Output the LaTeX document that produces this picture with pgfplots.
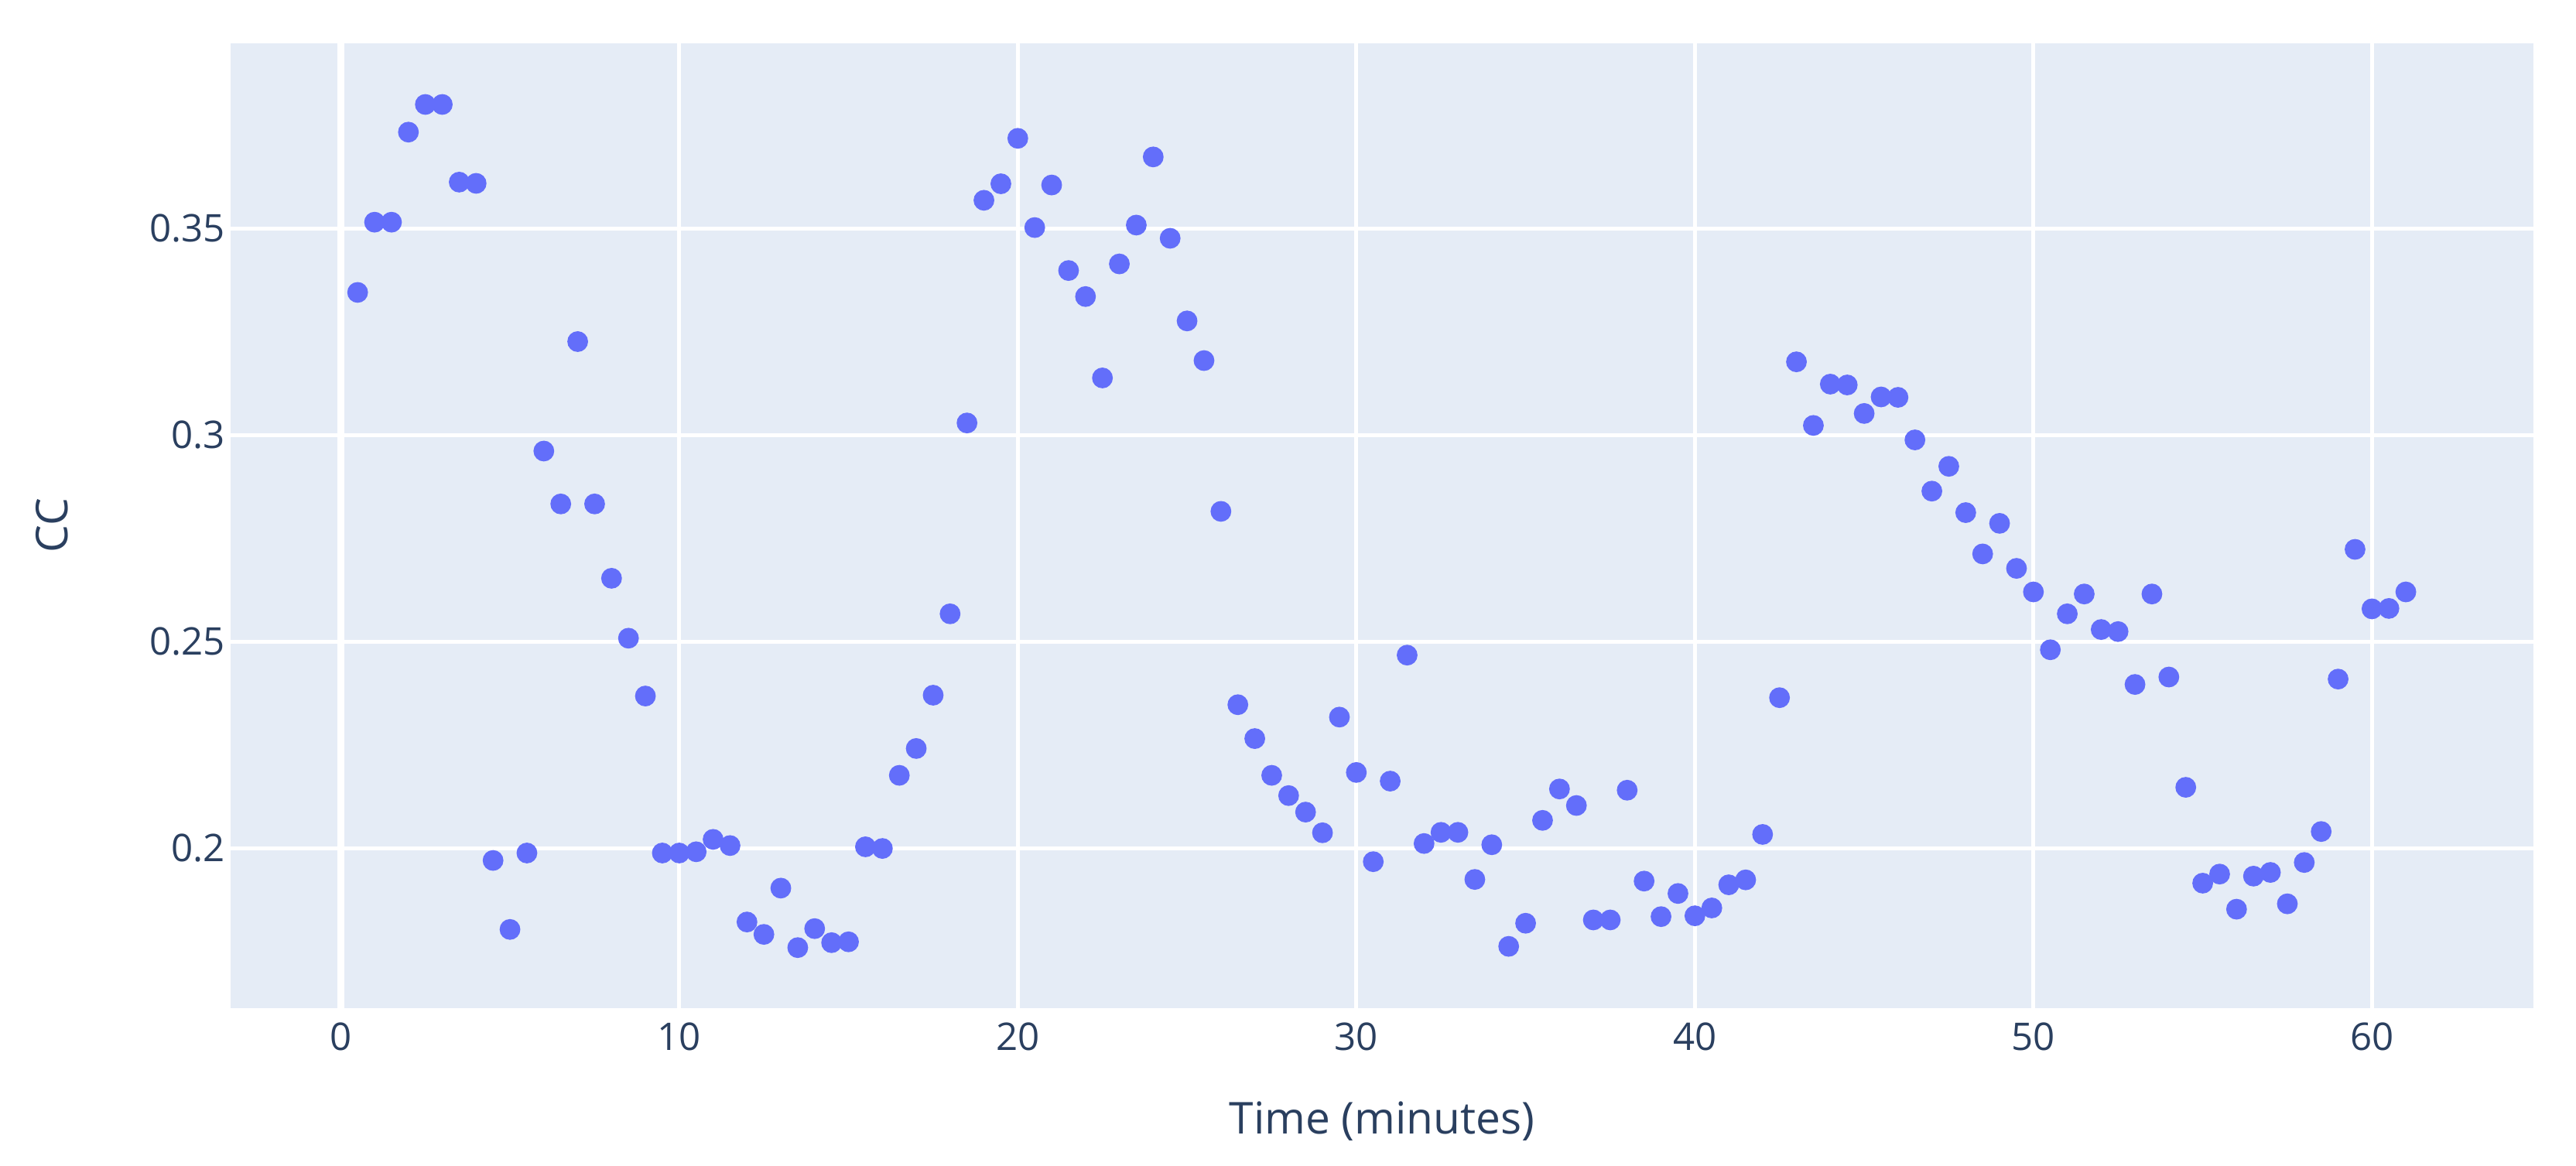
\documentclass[border=0pt]{standalone}
\usepackage{fontspec}
\setmainfont{Open Sans}
\usepackage{pgfplots}
\pgfplotsset{compat=1.18}
\usepackage{pgfplotstable}
\definecolor{bgcol}{HTML}{E5ECF6}
\definecolor{txtcol}{HTML}{2A3F5F}
\definecolor{mkcol}{HTML}{636EFA}
\pgfplotstableread{
t cc
0.5 0.3345
1.0 0.3515
1.5 0.3515
2.0 0.3733
2.5 0.3800
3.0 0.3800
3.5 0.3612
4.0 0.3609
4.5 0.1970
5.0 0.1803
5.5 0.1988
6.0 0.2961
6.5 0.2833
7.0 0.3226
7.5 0.2833
8.0 0.2653
8.5 0.2508
9.0 0.2368
9.5 0.1988
10.0 0.1988
10.5 0.1991
11.0 0.2021
11.5 0.2006
12.0 0.1821
12.5 0.1791
13.0 0.1903
13.5 0.1759
14.0 0.1805
14.5 0.1771
15.0 0.1773
15.5 0.2003
16.0 0.1999
16.5 0.2176
17.0 0.2241
17.5 0.2370
18.0 0.2567
18.5 0.3029
19.0 0.3568
19.5 0.3608
20.0 0.3718
20.5 0.3502
21.0 0.3605
21.5 0.3398
22.0 0.3335
22.5 0.3138
23.0 0.3414
23.5 0.3508
24.0 0.3673
24.5 0.3476
25.0 0.3276
25.5 0.3180
26.0 0.2815
26.5 0.2347
27.0 0.2265
27.5 0.2176
28.0 0.2127
28.5 0.2087
29.0 0.2037
29.5 0.2317
30.0 0.2183
30.5 0.1967
31.0 0.2162
31.5 0.2467
32.0 0.2011
32.5 0.2038
33.0 0.2038
33.5 0.1924
34.0 0.2008
34.5 0.1762
35.0 0.1818
35.5 0.2067
36.0 0.2143
36.5 0.2103
37.0 0.1826
37.5 0.1826
38.0 0.2140
38.5 0.1920
39.0 0.1834
39.5 0.1890
40.0 0.1836
40.5 0.1855
41.0 0.1911
41.5 0.1923
42.0 0.2033
42.5 0.2364
43.0 0.3177
43.5 0.3023
44.0 0.3123
44.5 0.3121
45.0 0.3052
45.5 0.3092
46.0 0.3091
46.5 0.2988
47.0 0.2864
47.5 0.2924
48.0 0.2812
48.5 0.2712
49.0 0.2786
49.5 0.2677
50.0 0.2620
50.5 0.2480
51.0 0.2567
51.5 0.2615
52.0 0.2529
52.5 0.2524
53.0 0.2396
53.5 0.2615
54.0 0.2414
54.5 0.2147
55.0 0.1915
55.5 0.1937
56.0 0.1852
56.5 0.1932
57.0 0.1941
57.5 0.1865
58.0 0.1965
58.5 0.2040
59.0 0.2409
59.5 0.2723
60.0 0.2579
60.5 0.2580
61.0 0.2620
}\datatable
\begin{document}
\begin{tikzpicture}
\begin{axis}[
  at={(0,0)}, anchor=south west,
  scale only axis,
  width=744pt, height=311.675pt,
  xmin=-3.253, xmax=64.77,
  ymin=0.1613, ymax=0.3948,
  axis background/.style={fill=bgcol},
  axis line style={draw=none},
  tick style={draw=none},
  major tick length=0pt,
  grid=major,
  grid style={white, line width=1.25pt},
  xtick={10,20,30,40,50,60},
  xticklabels={10,20,30,40,50,60},
  extra x ticks={0},
  extra x tick labels={0},
  extra x tick style={grid style={white, line width=2.25pt}},
  ytick={0.2,0.25,0.3,0.35},
  yticklabels={0.2,0.25,0.3,0.35},
  ticklabel style={font=\fontsize{12.3}{14}\selectfont, text=txtcol},
  xticklabel style={anchor=north, inner sep=0pt, yshift=-4.5pt},
  yticklabel style={anchor=east, inner sep=0pt, xshift=-1.6pt},
  xlabel={Time (minutes)},
  ylabel={CC},
  label style={font=\fontsize{14.2}{16}\selectfont, text=txtcol},
  xlabel style={at={(axis description cs:0.5,-0.1309)}, anchor=base, inner sep=0pt},
  ylabel style={at={(axis description cs:-0.07083,0.5)}, anchor=base, inner sep=0pt},
]
\addplot[only marks, mark=*, mark size=3.15pt, mkcol, mark options={draw=none, fill=mkcol}] table[x=t, y=cc] {\datatable};
\end{axis}
\pgfresetboundingbox
\useasboundingbox (-74.5pt,-51.075pt) rectangle (757.75pt,325.675pt);
\end{tikzpicture}
\end{document}
